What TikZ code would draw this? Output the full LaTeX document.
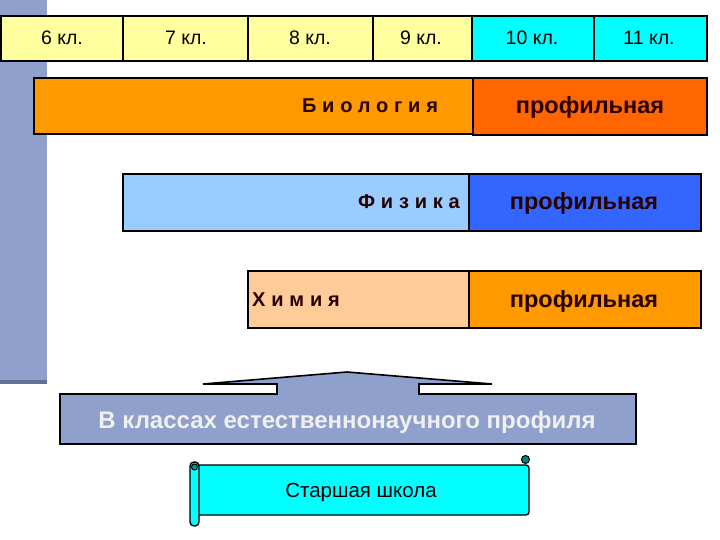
\documentclass[tikz,border=0pt]{standalone}
\usepackage{fontspec}
\setmainfont{Liberation Sans}
\definecolor{bargrey}{RGB}{143,160,204}
\definecolor{bardark}{RGB}{100,112,150}
\definecolor{lyellow}{RGB}{255,255,160}
\definecolor{cyanc}{RGB}{0,255,255}
\definecolor{orangec}{RGB}{255,153,0}
\definecolor{redorange}{RGB}{255,102,0}
\definecolor{lblue}{RGB}{153,204,255}
\definecolor{bluec}{RGB}{51,102,255}
\definecolor{peach}{RGB}{255,204,153}
\definecolor{darktext}{RGB}{40,0,0}
\begin{document}
\begin{tikzpicture}[x=1pt,y=-1pt,
  box/.style={draw=black,line width=1.6pt,inner sep=0pt,anchor=north west},
  grade/.style={anchor=base,inner sep=0pt,font=\fontsize{19.5}{19.5}\selectfont},
  prof/.style={anchor=base,inner sep=0pt,font=\fontsize{23.5}{23.5}\selectfont\bfseries,text=darktext},
  subj/.style={anchor=base,inner sep=0pt,font=\fontsize{20}{20}\selectfont\bfseries\addfontfeatures{LetterSpace=29},text=darktext}]
\useasboundingbox (0,0) rectangle (720,540);
\fill[white] (0,0) rectangle (720,540);
% left bar
\fill[bargrey] (0,0) rectangle (47,383);
\fill[bardark] (0,380) rectangle (47,384);
% grades row
\node[box,fill=lyellow,minimum width=122pt,minimum height=45pt] (g6) at (0,15) {};
\node[box,fill=lyellow,minimum width=125pt,minimum height=45pt] (g7) at (122,15) {};
\node[box,fill=lyellow,minimum width=125pt,minimum height=45pt] (g8) at (247,15) {};
\node[box,fill=lyellow,minimum width=99pt,minimum height=45pt] (g9) at (372,15) {};
\node[box,fill=cyanc,minimum width=122pt,minimum height=45pt] (g10) at (471,15) {};
\node[box,fill=cyanc,minimum width=113pt,minimum height=45pt] (g11) at (593,15) {};
\node[grade] (t6) at (62,45) {6 кл.};
\node[grade] (t7) at (186,45) {7 кл.};
\node[grade] (t8) at (310,45) {8 кл.};
\node[grade] (t9) at (421,45) {9 кл.};
\node[grade] (t10) at (532,45) {10 кл.};
\node[grade] (t11) at (649,45) {11 кл.};
% biology
\node[box,fill=orangec,minimum width=439pt,minimum height=56pt] (bio) at (33,77) {};
\node[box,fill=redorange,minimum width=234pt,minimum height=57pt] (biop) at (472,77) {};
\node[subj] (biot) at (370,113) {Биология};
\node[prof] (biopt) at (590,114) {профильная};
% physics
\node[box,fill=lblue,minimum width=346pt,minimum height=57pt] (phy) at (122,173) {};
\node[box,fill=bluec,minimum width=232pt,minimum height=57pt] (phyp) at (468,173) {};
\node[subj,anchor=base east] (phyt) at (460,209) {Физика};
\node[prof] (phypt) at (584,210) {профильная};
% chemistry
\node[box,fill=peach,minimum width=221pt,minimum height=57pt] (chem) at (247,270) {};
\node[box,fill=orangec,minimum width=232pt,minimum height=57pt] (chemp) at (468,270) {};
\node[subj,anchor=base west] (chemt) at (252,306) {Химия};
\node[prof] (chempt) at (584,307) {профильная};
% callout
\draw[line width=1.6pt,fill=bargrey,line join=miter]
  (60,394) -- (277,394) -- (277,384) -- (203,384) -- (347,372) -- (492,384)
  -- (419,384) -- (419,394) -- (636,394) -- (636,444) -- (60,444) -- cycle;
\node[anchor=base,inner sep=0pt,font=\fontsize{24}{24}\selectfont\bfseries,text=white!94!black] (call) at (347,428) {В классах естественнонаучного профиля};
% scroll
\draw[line width=1.4pt,fill=cyanc,rounded corners=3pt] (195,465) -- (529,465) -- (529,515) -- (195,515) -- cycle;
\draw[line width=1.4pt,fill=cyanc,rounded corners=4pt] (190,462) rectangle (199,526);
\draw[line width=1pt,fill=cyanc!60!black] (194.5,467) circle (3pt);
\draw[line width=1pt,fill=cyanc!50!black] (525.5,459.5) circle (4pt);
\node[anchor=base,inner sep=0pt,font=\fontsize{20.5}{20.5}\selectfont] (scr) at (361,497) {Старшая школа};
\end{tikzpicture}
\end{document}
